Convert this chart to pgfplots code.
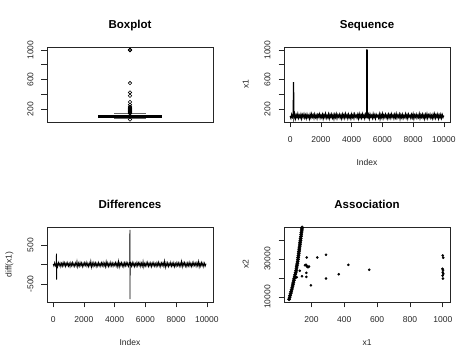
\documentclass[border=0pt]{standalone}
\usepackage{fontspec}
\setmainfont{Liberation Sans}
\usepackage{pgfplots}
\usepackage{pgfplotstable}
\pgfplotsset{compat=1.18}

\pgfplotstableread{
x y
0 105
50 76
100 124
150 88
200 117
220 566
250 81
300 129
350 72
400 120
450 90
500 133
550 79
600 115
650 85
700 126
750 70
800 121
850 93
900 130
950 82
1000 118
1050 75
1100 127
1150 89
1200 112
1250 68
1300 125
1350 84
1400 132
1450 91
1500 119
1550 77
1600 128
1650 86
1700 114
1750 73
1800 123
1850 95
1900 131
1950 80
2000 116
2050 87
2100 126
2150 71
2200 120
2250 92
2300 134
2350 78
2400 113
2450 84
2500 129
2550 74
2600 122
2650 90
2700 127
2750 81
2800 117
2850 69
2900 124
2950 88
3000 131
3050 76
3100 119
3150 93
3200 126
3250 83
3300 115
3350 72
3400 128
3450 87
3500 121
3550 79
3600 133
3650 91
3700 118
3750 74
3800 125
3850 85
3900 112
3950 70
4000 127
4050 89
4100 122
4150 77
4200 130
4250 94
4300 116
4350 82
4400 124
4450 73
4500 129
4550 86
4600 120
4650 80
4700 132
4750 90
4800 117
4850 75
4900 126
4950 88
4985 100
4990 1000
5010 1000
5015 96
5050 84
5100 123
5150 71
5200 128
5250 92
5300 115
5350 78
5400 131
5450 86
5500 119
5550 74
5600 125
5650 95
5700 113
5750 81
5800 129
5850 69
5900 122
5950 88
6000 134
6050 77
6100 118
6150 90
6200 127
6250 83
6300 114
6350 72
6400 126
6450 87
6500 121
6550 79
6600 130
6650 93
6700 116
6750 75
6800 124
6850 85
6900 132
6950 80
7000 117
7050 91
7100 128
7150 70
7200 120
7250 86
7300 125
7350 76
7400 112
7450 89
7500 131
7550 82
7600 119
7650 73
7700 127
7750 94
7800 115
7850 78
7900 123
7950 84
8000 130
8050 71
8100 118
8150 92
8200 126
8250 80
8300 114
8350 87
8400 133
8450 75
8500 121
8550 90
8600 128
8650 83
8700 116
8750 69
8800 124
8850 88
8900 131
8950 77
9000 119
9050 93
9100 127
9150 81
9200 113
9250 74
9300 125
9350 86
9400 132
9450 79
9500 120
9550 91
9600 128
9650 72
9700 117
9750 85
9800 126
9850 78
9900 122
9950 89
10000 111
}\seqdata

\pgfplotstableread{
x y
0 14
50 -41
100 48
150 -36
200 29
215 277
225 -389
250 35
300 -47
350 52
400 -28
450 40
500 -55
550 33
600 -44
650 57
700 -31
750 46
800 -52
850 38
900 -26
950 50
1000 -43
1050 31
1100 -58
1150 45
1200 -35
1250 54
1300 -40
1350 27
1400 -49
1450 42
1500 -33
1550 82
1600 -62
1650 37
1700 -45
1750 51
1800 -29
1850 43
1900 -56
1950 34
2000 -38
2050 49
2100 -27
2150 55
2200 -46
2250 30
2300 -53
2350 41
2400 -34
2450 86
2500 -70
2550 36
2600 -48
2650 53
2700 -30
2750 44
2800 -57
2850 32
2900 -42
2950 50
3000 -37
3050 28
3100 -51
3150 47
3200 -33
3250 56
3300 -44
3350 35
3400 -60
3450 79
3500 -39
3550 45
3600 -52
3650 30
3700 -41
3750 58
3800 -35
3850 40
3900 -48
3950 33
4000 -27
4050 52
4100 -46
4150 37
4200 -55
4250 84
4300 -66
4350 42
4400 -31
4450 49
4500 -43
4550 35
4600 -58
4650 46
4700 -36
4750 54
4800 -29
4850 41
4900 -50
4950 32
4985 5
4995 894
5000 -894
5010 -4
5050 38
5100 -47
5150 53
5200 -32
5250 44
5300 -56
5350 31
5400 -40
5450 57
5500 -38
5550 46
5600 -27
5650 50
5700 -53
5750 36
5800 -45
5850 81
5900 -64
5950 29
6000 -41
6050 48
6100 -34
6150 55
6200 -49
6250 33
6300 -37
6350 44
6400 -57
6450 39
6500 -30
6550 52
6600 -43
6650 27
6700 -51
6750 47
6800 -36
6850 58
6900 -42
6950 34
7000 -55
7050 41
7100 -28
7150 50
7200 -46
7250 87
7300 -72
7350 37
7400 -39
7450 45
7500 -54
7550 30
7600 -33
7650 56
7700 -47
7750 35
7800 -40
7850 49
7900 -58
7950 28
8000 -44
8050 53
8100 -31
8150 42
8200 -50
8250 36
8300 -37
8350 83
8400 -61
8450 46
8500 -29
8550 51
8600 -48
8650 33
8700 -56
8750 40
8800 -35
8850 57
8900 -43
8950 31
9000 -52
9050 47
9100 -38
9150 54
9200 -27
9250 39
9300 -49
9350 44
9400 -33
9450 80
9500 -65
9550 36
9600 -45
9650 52
9700 -30
9750 41
9800 -57
9850 34
9900 -39
9950 22
}\diffdata

\pgfplotstableread{
x1 x2
64.1 8800
67.2 9800
70.3 10800
73.4 11800
76.6 12800
79.7 13800
82.4 14800
85.0 15800
87.7 16800
90.3 17800
92.9 18800
95.6 19800
98.4 20800
101.1 21800
103.8 22800
106.4 23800
108.4 24800
110.4 25800
112.5 26800
114.5 27800
116.5 28800
118.0 29800
119.5 30800
121.0 31800
122.5 32800
124.0 33800
125.6 34800
127.1 35800
128.6 36800
130.1 37800
131.6 38800
133.1 39800
134.6 40800
136.1 41800
137.6 42800
139.1 43800
140.6 44800
142.1 45800
143.3 46600
}\lineassoc

\pgfplotstableread{
x1 x2
171 30800
236 30800
289 32200
425 26940
552 24300
129 23770
161 26730
171 26400
179 25670
185 26040
175 25900
167 26940
104 20380
110 20380
143 20910
169 22710
169 20590
197 16150
289 19700
366 21970
1000 31860
1003 30640
998 24830
1002 24090
1000 23030
1003 22180
999 21280
1001 19700
}\scatterassoc

\pgfplotstableread{
x y
1 58
1 140
1 146
1 152
1 158
1 164
1 170
1 176
1 182
1 189
1 196
1 204
1 212
1 221
1 230
1 259
1 295
1 380
1 425
1 552
1 998
1 1000
1 1003
}\outliers

\pgfplotsset{
  rpanel/.style={
    scale only axis, width=166pt, height=75pt,
    axis line style={line width=0.7pt, black!85},
    tick align=outside,
    xtick pos=bottom, ytick pos=left,
    major tick length=5.5pt,
    every tick/.style={line width=0.6pt, black!85},
    ticklabel style={font=\fontsize{8.5}{9}\selectfont, inner sep=0pt, text=black!85},
    xticklabel style={anchor=base},
    xticklabel shift=15.5pt,
    yticklabel style={rotate=90, anchor=base},
    yticklabel shift=8.2pt,
    scaled ticks=false,
    title style={font=\bfseries\fontsize{11.5}{13}\selectfont, at={(axis description cs:0.5,1)}, anchor=base, yshift=12.7pt, inner sep=0pt},
    xlabel style={font=\fontsize{8.5}{9}\selectfont, at={(axis description cs:0.5,-0.58)}, anchor=base, inner sep=0pt, text=black!85},
    ylabel style={font=\fontsize{8.5}{9}\selectfont, at={(axis description cs:-0.2127,0.5)}, anchor=base, inner sep=0pt, text=black!85},
  }
}

\begin{document}
\begin{tikzpicture}
\path[use as bounding box] (0pt,0pt) rectangle (474pt,361pt);

% Boxplot
\begin{axis}[rpanel, at={(47pt,239pt)}, anchor=south west,
  xmin=0.5, xmax=1.5, ymin=24, ymax=1041,
  xtick=\empty, ytick={200,400,600,800,1000}, yticklabels={200,,600,,1000},
  title={Boxplot}]
\addplot[black, line width=0.5pt, dashed] coordinates {(1,113) (1,135)};
\addplot[black, line width=0.5pt, dashed] coordinates {(1,66) (1,90)};
\addplot[black!60, line width=0.8pt] coordinates {(0.905,135) (1.095,135)};
\addplot[black!60, line width=0.8pt] coordinates {(0.905,66) (1.095,66)};
\addplot[black, line width=0.8pt] coordinates {(0.81,90) (1.19,90) (1.19,113) (0.81,113) (0.81,90)};
\addplot[black, line width=2.6pt] coordinates {(0.81,101) (1.19,101)};
\addplot[only marks, mark=o, mark size=1.7pt, mark options={line width=0.6pt}, black] table[x=x, y=y] {\outliers};
\end{axis}

% Sequence
\begin{axis}[rpanel, at={(284pt,239pt)}, anchor=south west,
  xmin=-399, xmax=10400, ymin=24, ymax=1041,
  xtick={0,2000,4000,6000,8000,10000}, xticklabels={0,2000,4000,6000,8000,10000},
  ytick={200,400,600,800,1000}, yticklabels={200,,600,,1000},
  title={Sequence}, xlabel={Index}, ylabel={x1}]
\addplot[black, line width=1.2pt] table[x=x, y=y] {\seqdata};
\end{axis}

% Differences
\begin{axis}[rpanel, at={(47pt,59pt)}, anchor=south west,
  xmin=-399, xmax=10400, ymin=-966, ymax=966,
  xtick={0,2000,4000,6000,8000,10000}, xticklabels={0,2000,4000,6000,8000,10000},
  ytick={-500,0,500}, yticklabels={-500,,500},
  title={Differences}, xlabel={Index}, ylabel={diff(x1)}]
\addplot[black, line width=0.8pt] table[x=x, y=y] {\diffdata};
\end{axis}

% Association
\begin{axis}[rpanel, at={(284pt,59pt)}, anchor=south west,
  xmin=33, xmax=1044, ymin=7370, ymax=46840,
  xtick={200,400,600,800,1000}, xticklabels={200,400,600,800,1000},
  ytick={10000,20000,30000,40000}, yticklabels={10000,,30000,},
  title={Association}, xlabel={x1}, ylabel={x2}]
\addplot[only marks, mark=*, mark size=1.7pt, black] table[x=x1, y=x2] {\lineassoc};
\addplot[only marks, mark=*, mark size=1.1pt, black] table[x=x1, y=x2] {\scatterassoc};
\end{axis}
\end{tikzpicture}
\end{document}
